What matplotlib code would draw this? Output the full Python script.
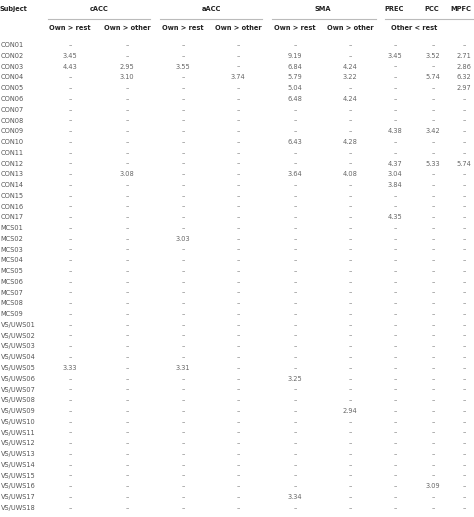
import matplotlib.pyplot as plt

subjects = ["CON%02d" % i for i in range(1, 18)] + \
           ["MCS%02d" % i for i in range(1, 10)] + \
           ["VS/UWS%02d" % i for i in range(1, 19)]

# row index -> value; rows 0-16 CON, 17-25 MCS, 26-43 VS/UWS
cacc_rest = {1: "3.45", 2: "4.43", 30: "3.33"}
cacc_other = {2: "2.95", 3: "3.10", 12: "3.08"}
aacc_rest = {2: "3.55", 18: "3.03", 30: "3.31"}
aacc_other = {3: "3.74"}
sma_rest = {1: "9.19", 2: "6.84", 3: "5.79", 4: "5.04", 5: "6.48", 9: "6.43",
            12: "3.64", 31: "3.25", 42: "3.34"}
sma_other = {2: "4.24", 3: "3.22", 5: "4.24", 9: "4.28", 12: "4.08", 34: "2.94"}
prec = {1: "3.45", 8: "4.38", 11: "4.37", 12: "3.04", 13: "3.84", 16: "4.35"}
pcc = {1: "3.52", 3: "5.74", 8: "3.42", 11: "5.33", 41: "3.09"}
mpfc = {1: "2.71", 2: "2.86", 3: "6.32", 4: "2.97", 11: "5.74"}
data = [cacc_rest, cacc_other, aacc_rest, aacc_other, sma_rest, sma_other, prec, pcc, mpfc]

W, H = 474, 517
fig = plt.figure(figsize=(W / 100, H / 100), dpi=100)
ax = fig.add_axes([0, 0, 1, 1])
ax.set_xlim(0, W)
ax.set_ylim(H, 0)
ax.axis("off")

col_x = [70, 127, 183, 238, 295, 350, 395, 433, 464]
hdr = dict(fontsize=4.8, fontweight="bold", color="#222222", va="center")

ax.text(0, 9, "Subject", ha="left", **hdr)
for name, x in [("cACC", 99), ("aACC", 211), ("SMA", 323), ("PREC", 394), ("PCC", 432), ("MPFC", 461)]:
    ax.text(x, 9, name, ha="center", **hdr)
for x0, x1 in [(48, 150), (160, 262), (272, 376), (385, 476)]:
    ax.plot([x0, x1], [18.5, 18.5], color="#bbbbbb", lw=0.8)
subs = ["Own > rest", "Own > other"] * 3
for s, x in zip(subs, col_x[:6]):
    ax.text(x, 28, s, ha="center", **hdr)
ax.text(414, 28, "Other < rest", ha="center", **hdr)

y0, dy = 45.2, 10.76
for i, s in enumerate(subjects):
    y = y0 + i * dy
    ax.text(0.5, y, s, ha="left", va="center", fontsize=4.8, color="#555555")
    for d, x in zip(data, col_x):
        ax.text(x, y, d.get(i, "–"), ha="center", va="center", fontsize=4.8, color="#666666")

fig.savefig("out.png", dpi=100)
